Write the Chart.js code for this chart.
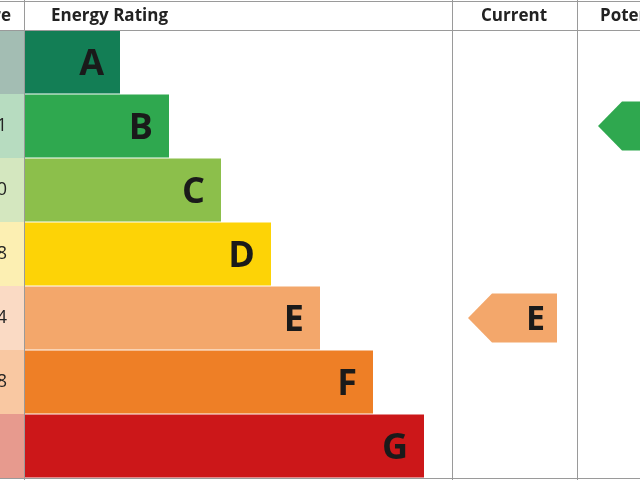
<!DOCTYPE html>
<html>
<head>
<meta charset="utf-8">
<script src="https://cdn.jsdelivr.net/npm/chart.js@4"></script>
<style>
  html, body { margin: 0; padding: 0; background: #fff; }
  #wrap { width: 640px; height: 480px; }
</style>
</head>
<body>
<div id="wrap"><canvas id="epcChart"></canvas></div>
<script>
/* EPC energy rating chart */

const bands = ["A", "B", "C", "D", "E", "F", "G"];
const ranges = ["92+", "81-91", "69-80", "55-68", "39-54", "21-38", "1-20"];
const barLengths = [95, 144, 196, 246, 295, 348, 399];
const bandColors = ["#137e55", "#2fa84f", "#8cbf4b", "#fdd306", "#f3a76b", "#ee7f26", "#cc1719"];
const paleColors = ["#a3bdb3", "#b7dcc0", "#d4e7bf", "#fcefb2", "#fadac4", "#f9c8a2", "#e79a8e"];
const currentBand = "E";
const potentialBand = "B";

const lineColor = "#9a9a9a";

const epcPlugin = {
  id: "epcPlugin",
  afterDraw(chart) {
    const ctx = chart.ctx;
    const y = chart.scales.y;
    const area = chart.chartArea;
    const rowH = y.getPixelForValue(1) - y.getPixelForValue(0);

    ctx.save();

    // score column cells
    bands.forEach((b, i) => {
      const cy = y.getPixelForValue(i);
      ctx.fillStyle = paleColors[i];
      ctx.fillRect(0, cy - rowH / 2, 24, rowH);
      ctx.fillStyle = "#222";
      ctx.font = "18px 'Open Sans'";
      ctx.textAlign = "right";
      ctx.textBaseline = "middle";
      if (i > 0 && i < 6) ctx.fillText(ranges[i], 7, cy);
    });

    // bar letters
    ctx.font = "bold 36px 'Open Sans'";
    ctx.fillStyle = "#1a1a1a";
    ctx.textAlign = "right";
    bands.forEach((b, i) => {
      const bar = chart.getDatasetMeta(0).data[i];
      ctx.fillText(b, bar.x - 16, y.getPixelForValue(i) + 3);
    });

    // grid lines
    ctx.strokeStyle = lineColor;
    ctx.lineWidth = 1;
    ctx.beginPath();
    ctx.moveTo(0, 1.5); ctx.lineTo(640, 1.5);
    ctx.moveTo(0, 30.5); ctx.lineTo(640, 30.5);
    ctx.moveTo(24.5, 0); ctx.lineTo(24.5, 480);
    ctx.moveTo(452.5, 0); ctx.lineTo(452.5, 480);
    ctx.moveTo(577.5, 0); ctx.lineTo(577.5, 480);
    ctx.moveTo(0, 478.5); ctx.lineTo(640, 478.5);
    ctx.stroke();

    // headers
    ctx.fillStyle = "#222";
    ctx.font = "bold 17px 'Open Sans'";
    ctx.textBaseline = "middle";
    ctx.textAlign = "right";
    ctx.fillText("Score", 11, 16);
    ctx.textAlign = "left";
    ctx.fillText("Energy Rating", 51, 16);
    ctx.textAlign = "center";
    ctx.fillText("Current", 514, 16);
    ctx.textAlign = "left";
    ctx.fillText("Potential", 600, 16);

    // arrows
    function arrow(band, tipX, rightX) {
      const i = bands.indexOf(band);
      const cy = y.getPixelForValue(i);
      const h = 49;
      ctx.fillStyle = bandColors[i];
      ctx.beginPath();
      ctx.moveTo(tipX, cy);
      ctx.lineTo(tipX + 24, cy - h / 2);
      ctx.lineTo(rightX, cy - h / 2);
      ctx.lineTo(rightX, cy + h / 2);
      ctx.lineTo(tipX + 24, cy + h / 2);
      ctx.closePath();
      ctx.fill();
      ctx.fillStyle = "#1a1a1a";
      ctx.font = "bold 34px 'Open Sans'";
      ctx.textAlign = "right";
      ctx.fillText(band, rightX - 12, cy + 2);
    }
    arrow(currentBand, 468, 557);
    arrow(potentialBand, 598, 687);

    ctx.restore();
  }
};

new Chart(document.getElementById("epcChart"), {
  type: "bar",
  data: {
    labels: bands,
    datasets: [{
      data: barLengths,
      backgroundColor: bandColors,
      borderWidth: 0,
      categoryPercentage: 1,
      barPercentage: 0.985
    }]
  },
  options: {
    indexAxis: "y",
    responsive: true,
    maintainAspectRatio: false,
    animation: false,
    layout: { padding: { left: 25, right: 188, top: 30, bottom: 2 } },
    plugins: {
      legend: { display: false },
      tooltip: { enabled: false }
    },
    scales: {
      x: { display: false, min: 0, max: 427 },
      y: { display: false }
    }
  },
  plugins: [epcPlugin]
});
</script>
</body>
</html>
